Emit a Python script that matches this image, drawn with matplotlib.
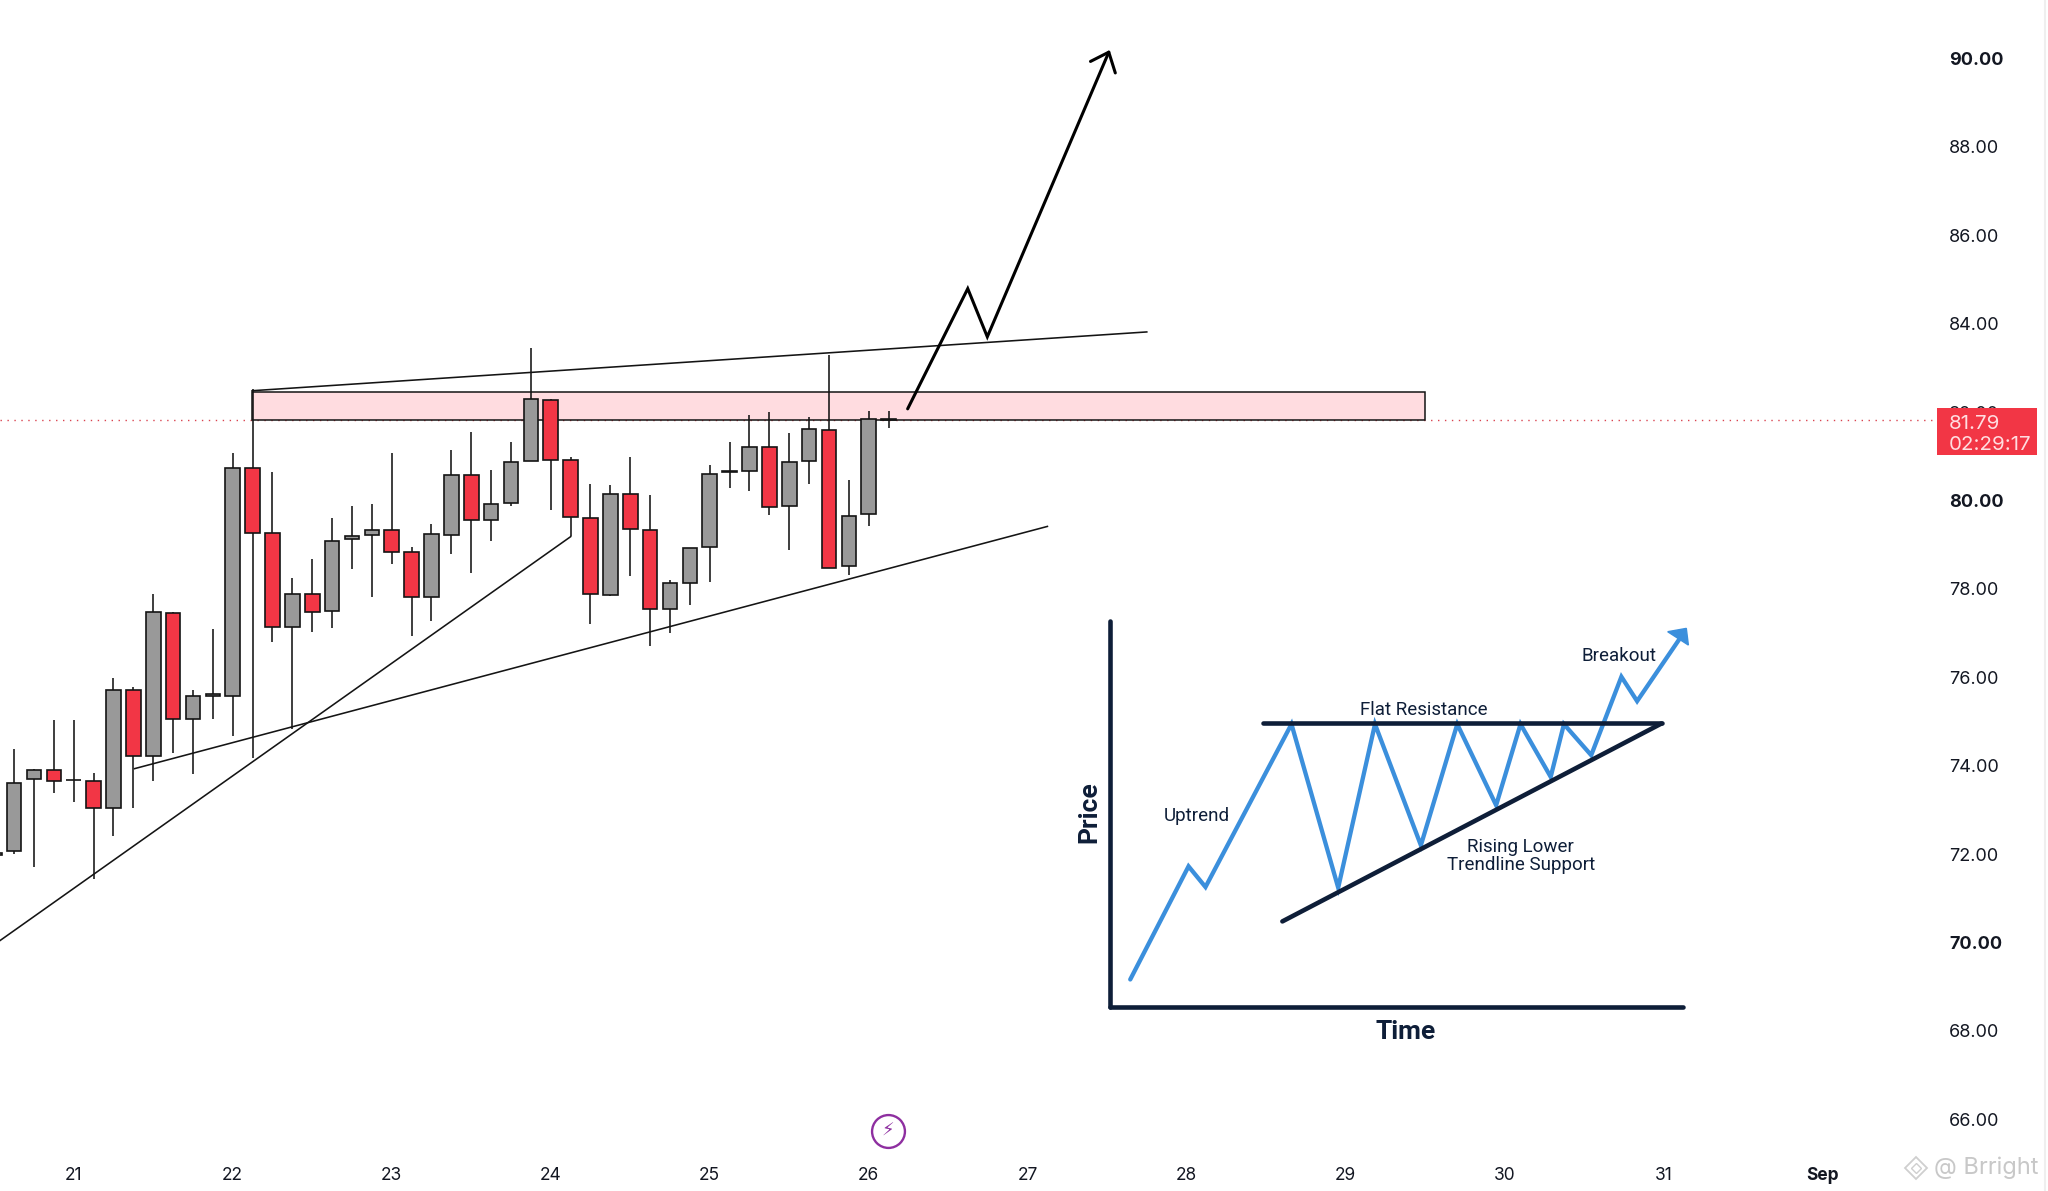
import numpy as np
import matplotlib.pyplot as plt
from matplotlib.lines import Line2D
from matplotlib.patches import Rectangle, Polygon
from matplotlib.transforms import ScaledTranslation

# --- candle data (3h bars, 8 bars per day) ---
opens = [71.94, 72.04, 73.66, 73.86, 73.64, 73.62, 73.02, 75.67, 74.19, 77.43, 75.02, 75.55, 75.55, 80.71, 79.22, 77.11,
         77.85, 77.46, 79.10, 79.19, 79.31, 78.79, 77.78, 79.19, 80.54, 79.52, 79.91, 80.85, 82.24, 80.89, 79.58, 77.82,
         80.11, 79.29, 77.52, 78.10, 78.92, 80.61, 80.64, 81.17, 79.85, 80.85, 81.57, 78.49, 79.65, 81.82]
closes = [72.00, 73.58, 73.86, 73.61, 73.64, 73.02, 75.69, 74.18, 77.44, 75.02, 75.55, 75.58, 80.71, 79.22, 77.11, 77.85,
          77.44, 79.04, 79.17, 79.29, 78.79, 77.78, 79.20, 80.54, 79.52, 79.88, 80.84, 82.26, 80.89, 79.60, 77.84, 80.11,
          79.32, 77.52, 78.09, 78.90, 80.57, 80.64, 81.17, 79.81, 80.83, 81.58, 78.45, 79.61, 81.82, 81.79]
highs = [72.02, 74.34, 73.89, 74.99, 74.99, 73.81, 75.94, 75.75, 77.86, 77.44, 75.68, 77.07, 81.03, 82.49, 80.62, 78.22,
         78.64, 79.56, 79.84, 79.88, 81.03, 78.92, 79.43, 81.12, 81.52, 80.66, 81.30, 83.41, 82.27, 80.95, 80.33, 80.31,
         80.95, 80.09, 78.16, 78.90, 80.77, 81.29, 81.89, 81.97, 81.50, 81.85, 83.25, 80.43, 82.00, 82.00]
lows = [71.92, 71.97, 71.67, 73.36, 73.15, 71.41, 72.38, 73.02, 73.63, 74.25, 73.78, 75.02, 74.64, 74.15, 76.77, 74.79,
        77.00, 77.08, 78.41, 77.78, 78.54, 76.91, 77.25, 78.75, 78.32, 79.05, 79.85, 80.85, 79.76, 79.16, 77.18, 77.80,
        78.25, 76.67, 76.97, 77.60, 78.13, 80.25, 80.18, 79.64, 78.84, 80.34, 78.45, 78.28, 79.39, 81.60]
bar_index = np.arange(-1, 45)

y_ticks = [66, 68, 70, 72, 74, 76, 78, 80, 82, 84, 86, 88, 90]
y_bold = [70, 80, 90]
x_ticks = [21, 22, 23, 24, 25, 26, 27, 28, 29, 30, 31, 32]
x_labels = ['21', '22', '23', '24', '25', '26', '27', '28', '29', '30', '31', 'Sep']
last_price = 81.79

# --- drawings on the chart (day, price) ---
zone_days = [22.122, 29.498]
zone_prices = [81.78, 82.41]
top_line_days = [22.122, 27.749]
top_line_prices = [82.45, 83.78]
low_line_days = [21.383, 27.124]
low_line_prices = [73.90, 79.38]
steep_line_days = [20.5365, 24.126]
steep_line_prices = [70.01, 79.15]
arrow_days = [26.245, 26.623, 26.746, 27.510]
arrow_prices = [82.04, 84.76, 83.67, 90.11]
head_days = [27.395, 27.510, 27.551]
head_prices = [89.90, 90.11, 89.64]

# --- small schematic in the corner ---
path_x = [48, 189, 230, 438, 551, 640, 751, 839, 933, 992, 1065, 1097, 1163, 1236, 1274, 1383]
path_y = [81, 420, 358, 846, 356, 846, 483, 846, 603, 846, 688, 846, 753, 988, 915, 1113]
path_head = [[1393, 1133], [1348, 1123], [1398, 1083]]
flat_x = [368, 1333]
flat_y = [848, 848]
rising_x = [416, 1333]
rising_y = [255, 848]

W, H = 2048, 1191
DAY_LEFT, DAY_PER_PX = 20.5365, 1 / 159
PRICE_TOP, PRICE_PER_PX = 91.29, 1 / 44.2
AX_RIGHT, AX_BOTTOM = 1945, 1155

plt.rcParams['font.family'] = ['Inter', 'DejaVu Sans']
BLACK = '#141414'
RED = '#F23645'
GRAY = '#999999'
NAVY = '#0E1E38'
BLUE = '#3B8FDC'
NARROW = ['Liberation Sans Narrow', 'Roboto', 'DejaVu Sans']

fig = plt.figure(figsize=(W / 100, H / 100), dpi=100, facecolor='white')
ax = fig.add_axes([0, 1 - AX_BOTTOM / H, AX_RIGHT / W, AX_BOTTOM / H])
ax.set_xlim(DAY_LEFT, DAY_LEFT + AX_RIGHT * DAY_PER_PX)
ax.set_ylim(PRICE_TOP - AX_BOTTOM * PRICE_PER_PX, PRICE_TOP)
for s in ax.spines.values():
    s.set_visible(False)

# axis labels
ax.yaxis.tick_right()
ax.set_yticks(y_ticks)
ax.set_yticklabels([f'{v:.2f}' for v in y_ticks], fontsize=13, color='#131722')
ax.set_xticks(x_ticks)
ax.set_xticklabels(x_labels, fontsize=12.5, color='#131722')
ax.get_xticklabels()[-1].set_fontweight('bold')
ax.tick_params(axis='y', length=0, pad=2.9)
ax.tick_params(axis='x', length=0, pad=9)
# tick_params resets the label transform, so the nudge comes after it
nudge = ScaledTranslation(0, -1.5 / 100, fig.dpi_scale_trans)
for lab, v in zip(ax.get_yticklabels(), y_ticks):
    lab.set_transform(lab.get_transform() + nudge)
    if v in y_bold:
        lab.set_fontweight('bold')

# last price line
ax.axhline(last_price, color='#D9434F', lw=1, ls=(0, (1, 4)), zorder=1)

# zone
ax.add_patch(Rectangle((zone_days[0], zone_prices[0]), zone_days[1] - zone_days[0], zone_prices[1] - zone_prices[0],
                       facecolor='#FFDCE0', edgecolor=BLACK, lw=1.1, zorder=2))

# candles
days = 21 + (bar_index - 3) / 8
colors = [GRAY if c >= o else RED for o, c in zip(opens, closes)]
ax.vlines(days, lows, highs, color=BLACK, lw=1.15, zorder=3)
bottoms = np.minimum(opens, closes)
heights = np.abs(np.array(closes) - np.array(opens))
ax.bar(days, heights, bottom=bottoms, width=0.092, color=colors, edgecolor=BLACK, linewidth=1.2, zorder=4)

# trend lines and the big arrow
ax.plot(top_line_days, top_line_prices, color=BLACK, lw=1.15, zorder=5)
ax.plot(low_line_days, low_line_prices, color=BLACK, lw=1.15, zorder=5)
ax.plot(steep_line_days, steep_line_prices, color=BLACK, lw=1.15, zorder=5)
ax.plot(arrow_days, arrow_prices, color='black', lw=2.2, zorder=6, solid_capstyle='round', solid_joinstyle='miter')
ax.plot(head_days, head_prices, color='black', lw=2.2, zorder=6, solid_capstyle='round')

# price tag
tag_left = DAY_LEFT + 1937 * DAY_PER_PX
tag_right = DAY_LEFT + 2037.5 * DAY_PER_PX
tag_top = PRICE_TOP - 408 * PRICE_PER_PX
tag_bottom = PRICE_TOP - 455 * PRICE_PER_PX
ax.add_patch(Rectangle((tag_left, tag_bottom), tag_right - tag_left, tag_top - tag_bottom,
                       facecolor=RED, edgecolor='none', clip_on=False, zorder=8))
text_x = DAY_LEFT + 1949 * DAY_PER_PX
ax.text(text_x, PRICE_TOP - 424 * PRICE_PER_PX, '81.79', fontsize=14.8, color='#FFDDE0', va='center', ha='left',
        clip_on=False, zorder=9)
ax.text(text_x, PRICE_TOP - 445.5 * PRICE_PER_PX, '02:29:17', fontsize=14.8, color='#FFDDE0', va='center', ha='left',
        clip_on=False, zorder=9)

# lightning badge
icon_x = DAY_LEFT + 888 * DAY_PER_PX
icon_y = PRICE_TOP - 1131 * PRICE_PER_PX
ax.scatter([icon_x], [icon_y], s=560, facecolor='white', edgecolor='#8E2FA0', linewidth=1.7, zorder=7, clip_on=False)
ax.text(icon_x, icon_y, '\u26A1', fontsize=13, color='#8E2FA0', ha='center', va='center', family='DejaVu Sans', zorder=8)

# watermark
wm_x = DAY_LEFT + 1916 * DAY_PER_PX
wm_y = PRICE_TOP - 1168 * PRICE_PER_PX
ax.plot([wm_x], [wm_y], marker='D', ms=11, mfc='none', mec='#CFCFCF', mew=1.3, clip_on=False, zorder=7)
ax.plot([wm_x], [wm_y], marker='D', ms=5, mfc='none', mec='#CFCFCF', mew=1.0, clip_on=False, zorder=7)
ax.text(DAY_LEFT + 1934 * DAY_PER_PX, wm_y, '@ Brright', fontsize=17, color='#C8C8C8', ha='left', va='center',
        clip_on=False, zorder=7)

fig.add_artist(Line2D([2045 / W, 2045 / W], [0, 1], color='#EFEFEF', lw=1.5))

# schematic panel, own axes
in_left, in_right, in_top, in_bottom = 1110.4, 1683, 620.7, 1006.5
ins = fig.add_axes([in_left / W, 1 - in_bottom / H, (in_right - in_left) / W, (in_bottom - in_top) / H])
ins.set_xlim(0, 1385)
ins.set_ylim(0, 1156)
ins.patch.set_alpha(0)
ins.set_xticks([])
ins.set_yticks([])
for name in ['top', 'right']:
    ins.spines[name].set_visible(False)
for name in ['left', 'bottom']:
    ins.spines[name].set_color(NAVY)
    ins.spines[name].set_linewidth(3.3)
    ins.spines[name].set_capstyle('round')

ins.plot(path_x, path_y, color=BLUE, lw=3.1, solid_joinstyle='miter', solid_capstyle='round', clip_on=False, zorder=2)
ins.add_patch(Polygon(path_head, closed=True, facecolor=BLUE, edgecolor=BLUE, lw=1, clip_on=False, zorder=2))
ins.plot(flat_x, flat_y, color=NAVY, lw=3.3, solid_capstyle='round', zorder=3)
ins.plot(rising_x, rising_y, color=NAVY, lw=3.3, solid_capstyle='round', zorder=3)

ins.text(758, 889, 'Flat Resistance', fontsize=13.5, family=NARROW, color=NAVY, ha='center', va='center')
ins.text(210, 571, 'Uptrend', fontsize=13.5, family=NARROW, color=NAVY, ha='center', va='center')
ins.text(993, 479, 'Rising Lower', fontsize=13.5, family=NARROW, color=NAVY, ha='center', va='center')
ins.text(993, 423, 'Trendline Support', fontsize=13.5, family=NARROW, color=NAVY, ha='center', va='center')
ins.text(1230, 1051, 'Breakout', fontsize=13.5, family=NARROW, color=NAVY, ha='center', va='center')
ins.text(-51, 583, 'Price', fontsize=19, fontweight='bold', family=['Roboto', 'DejaVu Sans'], color=NAVY,
         rotation=90, ha='center', va='center', clip_on=False)
ins.text(715, -77, 'Time', fontsize=19, fontweight='bold', family=['Roboto', 'DejaVu Sans'], color=NAVY,
         ha='center', va='center', clip_on=False)

fig.savefig('out.png', dpi=100)
